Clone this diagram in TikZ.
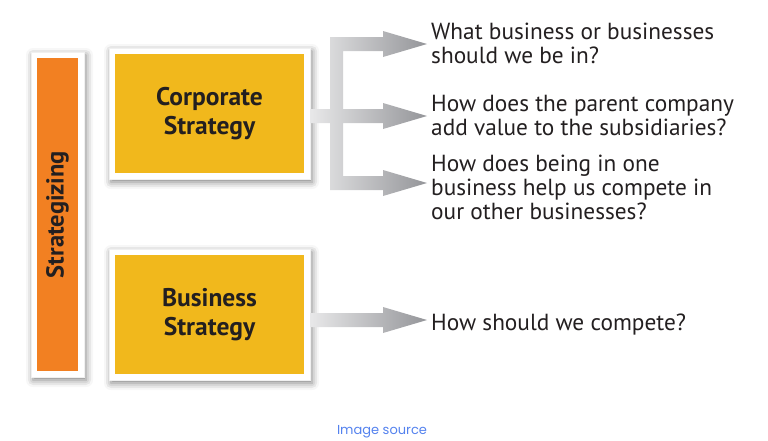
\documentclass[tikz,border=0pt]{standalone}
\usepackage{fontspec}
\setmainfont{PT Sans}
\newfontfamily\popfont{Poppins}
\usetikzlibrary{calc,shadows.blur}
\definecolor{corpyellow}{RGB}{241,184,28}
\definecolor{stratorange}{RGB}{242,128,34}
\definecolor{inkdark}{RGB}{35,31,32}
\definecolor{srcblue}{RGB}{84,130,238}
\definecolor{arrowlight}{RGB}{232,232,233}
\definecolor{arrowdark}{RGB}{148,149,153}
\begin{document}
\begin{tikzpicture}[x=1pt,y=-1pt,
  frame/.style={fill=white, draw=black!6, line width=0.4pt, inner sep=0pt,
    blur shadow={shadow xshift=2pt, shadow yshift=-3pt, shadow blur radius=7pt, shadow opacity=50}},
  panel/.style={fill=corpyellow, inner sep=0pt, minimum width=189pt, minimum height=119pt,
    align=center, font=\bfseries\fontsize{25.5}{29}\selectfont, text=inkdark},
  question/.style={anchor=west, align=left, inner sep=0pt, font=\fontsize{23.3}{24}\selectfont, text=inkdark},
  arrowshade/.style={left color=arrowlight, right color=arrowdark, draw=none}]
\useasboundingbox (0,0) rectangle (768,440);

% Strategizing bar
\node[frame, minimum width=53pt, minimum height=325pt] (stratframe) at (57.5,214.5) {};
\node[fill=stratorange, inner sep=0pt, minimum width=41pt, minimum height=313pt] (strat) at (stratframe.center) {};
\node[rotate=90, font=\bfseries\fontsize{24.5}{28}\selectfont, text=inkdark] (stratlabel) at (strat.center) {Strategizing};

% Corporate and Business boxes
\node[frame, minimum width=201pt, minimum height=131pt] (corpframe) at (209.5,113.5) {};
\node[panel] (corp) at (corpframe.center) {Corporate\\Strategy};
\node[frame, minimum width=201pt, minimum height=131pt] (busframe) at (209.5,314.5) {};
\node[panel] (bus) at (busframe.center) {Business\\Strategy};

% Questions
\node[question] (q1) at (431,46.2) {\strut What business or businesses\\\strut should we be in?};
\node[question] (q2) at (431,118.2) {\strut How does the parent company\\\strut add value to the subsidiaries?};
\node[question] (q3) at (431,190.2) {\strut How does being in one\\\strut business help us compete in\\\strut our other businesses?};
\node[question] (q4) at (431,325.2) {\strut How should we compete?};

% Arrow tips and bracket columns
\coordinate (a1) at ($(q1.west)+(-4,-2.2)$);
\coordinate (a2) at ($(q2.west)+(-4,-2.2)$);
\coordinate (a3) at ($(q3.west)+(-4,-7.2)$);
\coordinate (a4) at ($(q4.west)+(-4,-5.2)$);
\coordinate (bx) at (330,0);
\coordinate (bi) at (343,0);
\coordinate (hx) at (383,0);

% Corporate bracket arrows
\path[arrowshade]
  ($(corpframe.east |- a2)+(0,-7)$) --
  ($(bx |- a2)+(0,-7)$) --
  ($(bx |- a1)+(0,-7)$) --
  ($(hx |- a1)+(0,-7)$) --
  ($(hx |- a1)+(0,-13)$) --
  (a1) --
  ($(hx |- a1)+(0,13)$) --
  ($(hx |- a1)+(0,7)$) --
  ($(bi |- a1)+(0,7)$) --
  ($(bi |- a2)+(0,-7)$) --
  ($(hx |- a2)+(0,-7)$) --
  ($(hx |- a2)+(0,-13)$) --
  (a2) --
  ($(hx |- a2)+(0,13)$) --
  ($(hx |- a2)+(0,7)$) --
  ($(bi |- a2)+(0,7)$) --
  ($(bi |- a3)+(0,-7)$) --
  ($(hx |- a3)+(0,-7)$) --
  ($(hx |- a3)+(0,-13)$) --
  (a3) --
  ($(hx |- a3)+(0,13)$) --
  ($(hx |- a3)+(0,7)$) --
  ($(bx |- a3)+(0,7)$) --
  ($(bx |- a2)+(0,7)$) --
  ($(corpframe.east |- a2)+(0,7)$) -- cycle;

% Business arrow
\path[arrowshade]
  ($(busframe.east |- a4)+(0,-7)$) --
  ($(hx |- a4)+(0,-7)$) --
  ($(hx |- a4)+(0,-13)$) --
  (a4) --
  ($(hx |- a4)+(0,13)$) --
  ($(hx |- a4)+(0,7)$) --
  ($(busframe.east |- a4)+(0,7)$) -- cycle;

% Source caption
\node[font=\popfont\fontsize{13}{15}\selectfont, text=srcblue] (src) at (382,432) {Image source};
\end{tikzpicture}
\end{document}
